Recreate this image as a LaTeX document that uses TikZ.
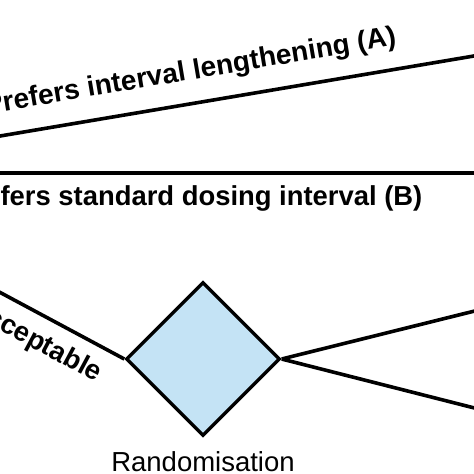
\documentclass[tikz,border=0pt]{standalone}
\usepackage{fontspec}
\setmainfont{Liberation Sans}
\usetikzlibrary{positioning, shapes.geometric}
\definecolor{randblue}{RGB}{196,227,245}

\begin{document}
\begin{tikzpicture}[x=1pt, y=-1pt,
		link/.style={line width=3.6pt},
		choice/.style={font=\fontsize{27.4}{33}\selectfont\bfseries, inner sep=11pt},
		decision/.style={diamond, draw, line width=3.4pt, fill=randblue, minimum width=154pt, minimum height=154pt, inner sep=0pt}]
				\useasboundingbox (0,0) rectangle (474,474);
				\clip (0,0) rectangle (474,474);
				%% free ends of the branches, outside the crop
				\coordinate (aL) at (-100,152.9);
				\coordinate (aR) at (574,39.1);
				\coordinate (bL) at (-100,173);
				\coordinate (bR) at (574,173);
				\coordinate (eitherL) at (-100,238.8);
				\coordinate (armA) at (574,286.3);
				\coordinate (armB) at (574,433.3);
				
				\node[decision] (rand) at (203,359) {};
				\node[below=10pt of rand, font=\fontsize{27.5}{33}\selectfont] (randlbl) {Randomisation};
				
				\draw[link] (aL) -- (aR) node[choice, font=\fontsize{28}{33}\selectfont\bfseries, sloped, pos=0.762, anchor=south east, inner ysep=16pt] (prefA) {Prefers interval lengthening (A)};
				\draw[link] (bL) -- (bR) node[choice, pos=0.794, anchor=north east] (prefB) {Prefers standard dosing interval (B)};
				\draw[link] (eitherL) -- (rand.west) node[choice, sloped, pos=1, anchor=north east, inner sep=12pt] (accept) {acceptable};
				\draw[link] (rand.east) -- (armA);
				\draw[link] (rand.east) -- (armB);
				\end{tikzpicture}
\end{document}
